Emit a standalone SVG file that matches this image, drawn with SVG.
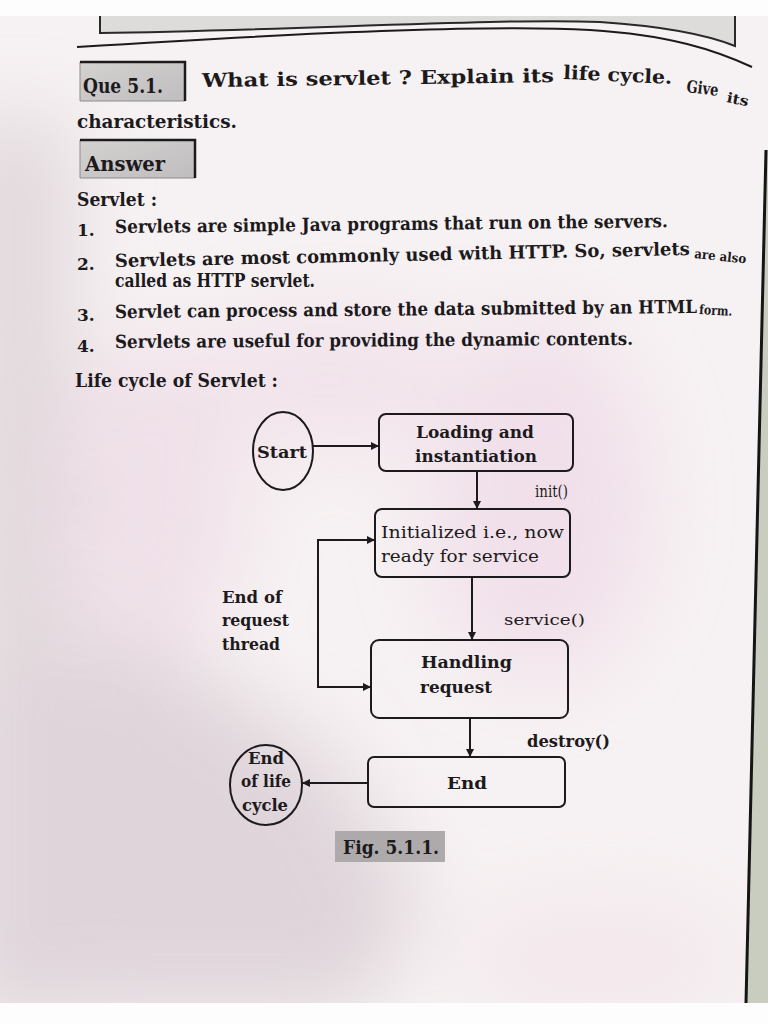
<svg xmlns="http://www.w3.org/2000/svg" width="768" height="1024" viewBox="0 0 768 1024">
<defs>
<filter id="blur" x="-50%" y="-50%" width="200%" height="200%"><feGaussianBlur stdDeviation="40"/></filter>
<linearGradient id="tag" x1="0" y1="0" x2="1" y2="1">
<stop offset="0" stop-color="#d4d2d1"/><stop offset="1" stop-color="#bfbdbd"/>
</linearGradient>
<marker id="ah" viewBox="0 0 10 10" refX="10" refY="5" markerWidth="10" markerHeight="8" markerUnits="userSpaceOnUse" orient="auto-start-reverse">
<path d="M0,0 L10,5 L0,10 z" fill="#1c1a1c"/>
</marker>
<style>
.t{font-family:"DejaVu Serif","Liberation Serif",serif;font-weight:bold;fill:#1c1a1c}
.n{font-family:"DejaVu Serif","Liberation Serif",serif;font-weight:normal;fill:#1c1a1c}
.box{fill:none;stroke:#1c1a1c;stroke-width:2}
.ln{fill:none;stroke:#1c1a1c;stroke-width:2}
.tagedge{fill:none;stroke:#1c1a1c;stroke-width:2.5}
.tagsoft{fill:none;stroke:#8e8a8b;stroke-width:1}
</style>
</defs>

<!-- page background -->
<rect x="0" y="0" width="768" height="1024" fill="#f6f1f2"/>
<g filter="url(#blur)" opacity="0.8">
<rect x="-40" y="120" width="110" height="900" fill="#dcd2d6"/>
<polygon points="-20,700 120,620 330,760 420,900 360,1010 -20,1010" fill="#d9cdd4"/>
<ellipse cx="540" cy="500" rx="110" ry="180" fill="#f0dce8"/>
<ellipse cx="330" cy="380" rx="130" ry="70" fill="#f1e0ea"/>
<ellipse cx="150" cy="500" rx="90" ry="160" fill="#efdde7"/>
<ellipse cx="600" cy="960" rx="140" ry="60" fill="#f3e6ea"/>
</g>
<rect x="0" y="0" width="768" height="16" fill="#fdfdfd"/>
<rect x="0" y="1003" width="768" height="21" fill="#fdfdfd"/>
<polygon points="766,150 768,150 768,1003 746,1003" fill="#c8cdbf"/>
<line x1="766" y1="150" x2="746" y2="1003" stroke="#151515" stroke-width="3"/>

<!-- header band -->
<path d="M100,16 H735 V46 Q690,28 600,22 C500,18 300,30 100,33 Z" fill="#dedbdb"/>
<path d="M100,16 V33 C300,30 500,18 600,22 Q690,28 735,46 V16" fill="none" stroke="#2a2828" stroke-width="2"/>
<path d="M77,47 C250,36 480,24 590,30 C670,35 715,50 752,67" fill="none" stroke="#1c1a1c" stroke-width="2"/>

<!-- question tag -->
<g id="que">
<rect x="80" y="62" width="105" height="39" fill="url(#tag)"/>
<path class="tagsoft" d="M80,62 V101 H185"/>
<path class="tagedge" d="M80,62 H185 V101"/>
<text class="t" x="83" y="93" font-size="20" textLength="80" lengthAdjust="spacingAndGlyphs">Que 5.1.</text>
</g>
<text class="t" x="202" y="87" font-size="19" textLength="352" lengthAdjust="spacingAndGlyphs" transform="rotate(-0.8 202 87)">What is servlet ? Explain its</text>
<text class="t" x="563" y="79" font-size="19" textLength="109" lengthAdjust="spacingAndGlyphs" transform="rotate(2.6 563 79)">life cycle.</text>
<text class="t" x="686" y="92" font-size="17" textLength="32" lengthAdjust="spacingAndGlyphs" transform="rotate(7 686 92)">Give</text>
<text class="t" x="726" y="102" font-size="14" textLength="22" lengthAdjust="spacingAndGlyphs" transform="rotate(11 726 102)">its</text>
<text class="t" x="77" y="128" font-size="19" textLength="160" lengthAdjust="spacingAndGlyphs">characteristics.</text>

<!-- answer tag -->
<g id="answer">
<rect x="80" y="140" width="115" height="38" fill="url(#tag)"/>
<path class="tagsoft" d="M80,140 V178 H195"/>
<path class="tagedge" d="M80,140 H195 V178"/>
<text class="t" x="85" y="171" font-size="20" textLength="80" lengthAdjust="spacingAndGlyphs">Answer</text>
</g>

<text class="t" x="77" y="206" font-size="18" textLength="80" lengthAdjust="spacingAndGlyphs">Servlet :</text>

<text class="t" x="77" y="236" font-size="17">1.</text>
<text class="t" x="115" y="233" font-size="18" textLength="553" lengthAdjust="spacingAndGlyphs" transform="rotate(-0.6 115 233)">Servlets are simple Java programs that run on the servers.</text>

<text class="t" x="77" y="270" font-size="17">2.</text>
<text class="t" x="115" y="267" font-size="18" textLength="575" lengthAdjust="spacingAndGlyphs" transform="rotate(-1.2 115 267)">Servlets are most commonly used with HTTP. So, servlets</text>
<text class="t" x="694" y="258" font-size="13" textLength="52" lengthAdjust="spacingAndGlyphs" transform="rotate(6 694 258)">are also</text>
<text class="t" x="115" y="287" font-size="18" textLength="200" lengthAdjust="spacingAndGlyphs">called as HTTP servlet.</text>

<text class="t" x="77" y="321" font-size="17">3.</text>
<text class="t" x="115" y="318" font-size="18" textLength="582" lengthAdjust="spacingAndGlyphs" transform="rotate(-0.5 115 318)">Servlet can process and store the data submitted by an HTML</text>
<text class="t" x="699" y="314" font-size="13" textLength="33" lengthAdjust="spacingAndGlyphs" transform="rotate(3 699 314)">form.</text>

<text class="t" x="77" y="352" font-size="17">4.</text>
<text class="t" x="115" y="348" font-size="18" textLength="518" lengthAdjust="spacingAndGlyphs" transform="rotate(-0.35 115 348)">Servlets are useful for providing the dynamic contents.</text>

<text class="t" x="75" y="387" font-size="19" textLength="203" lengthAdjust="spacingAndGlyphs">Life cycle of Servlet :</text>

<!-- diagram nodes -->
<g id="start">
<ellipse class="box" cx="283" cy="451" rx="30" ry="39"/>
<text class="t" x="282" y="458" font-size="16" text-anchor="middle" textLength="50" lengthAdjust="spacingAndGlyphs">Start</text>
</g>
<g id="loading">
<rect class="box" x="379" y="414" width="194" height="57" rx="7"/>
<text class="t" x="475" y="438" font-size="17" text-anchor="middle" textLength="118" lengthAdjust="spacingAndGlyphs">Loading and</text>
<text class="t" x="476" y="462" font-size="17" text-anchor="middle" textLength="122" lengthAdjust="spacingAndGlyphs">instantiation</text>
</g>
<g id="initialized">
<rect class="box" x="375" y="509" width="195" height="68" rx="7"/>
<text class="n" x="381" y="538" font-size="16" textLength="183" lengthAdjust="spacingAndGlyphs">Initialized i.e., now</text>
<text class="n" x="381" y="562" font-size="16" textLength="158" lengthAdjust="spacingAndGlyphs">ready for service</text>
</g>
<g id="handling">
<rect class="box" x="371" y="640" width="197" height="78" rx="8"/>
<text class="t" x="421" y="668" font-size="17" textLength="91" lengthAdjust="spacingAndGlyphs">Handling</text>
<text class="t" x="420" y="693" font-size="17" textLength="72" lengthAdjust="spacingAndGlyphs">request</text>
</g>
<g id="end">
<rect class="box" x="368" y="757" width="197" height="50" rx="6"/>
<text class="t" x="467" y="789" font-size="17" text-anchor="middle" textLength="40" lengthAdjust="spacingAndGlyphs">End</text>
</g>
<g id="endoflife">
<ellipse class="box" cx="266" cy="785" rx="36" ry="40"/>
<text class="t" x="266" y="764" font-size="16" text-anchor="middle" textLength="36" lengthAdjust="spacingAndGlyphs">End</text>
<text class="t" x="266" y="787" font-size="16" text-anchor="middle" textLength="50" lengthAdjust="spacingAndGlyphs">of life</text>
<text class="t" x="265" y="811" font-size="16" text-anchor="middle" textLength="46" lengthAdjust="spacingAndGlyphs">cycle</text>
</g>

<!-- connectors -->
<g id="connectors">
<line class="ln" x1="313" y1="446" x2="379" y2="446" marker-end="url(#ah)"/>
<line class="ln" x1="477" y1="471" x2="477" y2="509" marker-end="url(#ah)"/>
<line class="ln" x1="472" y1="577" x2="472" y2="640" marker-end="url(#ah)"/>
<line class="ln" x1="470" y1="718" x2="470" y2="757" stroke-width="3" marker-end="url(#ah)"/>
<line class="ln" x1="368" y1="783" x2="302" y2="783" marker-end="url(#ah)"/>
<path class="ln" d="M375,540 H318 V687 H371" stroke-width="2.5" marker-start="url(#ah)" marker-end="url(#ah)"/>
</g>

<!-- connector labels -->
<text class="n" x="535" y="497" font-size="16" textLength="33" lengthAdjust="spacingAndGlyphs">init()</text>
<text class="n" x="504" y="625" font-size="15" textLength="81" lengthAdjust="spacingAndGlyphs">service()</text>
<text class="t" x="527" y="747" font-size="16" textLength="83" lengthAdjust="spacingAndGlyphs">destroy()</text>
<text class="t" x="222" y="603" font-size="16" textLength="60" lengthAdjust="spacingAndGlyphs">End of</text>
<text class="t" x="222" y="626" font-size="16" textLength="67" lengthAdjust="spacingAndGlyphs">request</text>
<text class="t" x="222" y="650" font-size="16" textLength="58" lengthAdjust="spacingAndGlyphs">thread</text>

<!-- caption -->
<g id="caption">
<rect x="335" y="831" width="110" height="31" fill="#aeaaab"/>
<text class="t" x="343" y="854" font-size="18" textLength="96" lengthAdjust="spacingAndGlyphs">Fig. 5.1.1.</text>
</g>
</svg>
